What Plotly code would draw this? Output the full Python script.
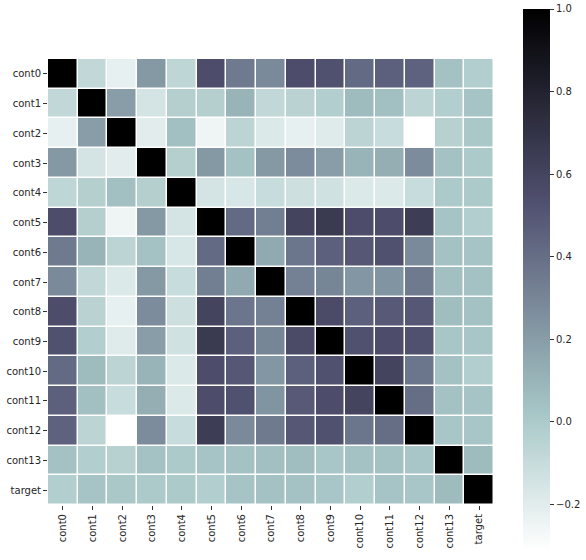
import numpy as np
import plotly.graph_objects as go

labels = ["cont0", "cont1", "cont2", "cont3", "cont4", "cont5", "cont6", "cont7",
          "cont8", "cont9", "cont10", "cont11", "cont12", "cont13", "target"]

# upper triangle rows of the correlation matrix (row i, columns i..14)
row_cont0 = [1.00, -0.08, -0.22, 0.22, -0.07, 0.55, 0.35, 0.28, 0.55, 0.53, 0.42, 0.46, 0.45, 0.04, -0.02]
row_cont1 = [1.00, 0.20, -0.15, -0.03, -0.03, 0.10, -0.08, -0.05, -0.02, 0.07, 0.05, -0.06, -0.02, 0.03]
row_cont2 = [1.00, -0.20, 0.05, -0.25, -0.06, -0.18, -0.22, -0.19, -0.06, -0.10, -0.31, -0.04, 0.01]
row_cont3 = [1.00, -0.03, 0.22, 0.04, 0.22, 0.27, 0.20, 0.10, 0.13, 0.27, 0.04, 0.00]
row_cont4 = [1.00, -0.15, -0.16, -0.10, -0.12, -0.13, -0.18, -0.18, -0.10, 0.00, 0.00]
row_cont5 = [1.00, 0.42, 0.33, 0.60, 0.66, 0.55, 0.55, 0.64, 0.03, -0.02]
row_cont6 = [1.00, 0.15, 0.37, 0.46, 0.50, 0.53, 0.28, 0.04, 0.03]
row_cont7 = [1.00, 0.32, 0.30, 0.23, 0.24, 0.35, 0.05, 0.04]
row_cont8 = [1.00, 0.56, 0.46, 0.49, 0.50, 0.06, 0.04]
row_cont9 = [1.00, 0.53, 0.55, 0.53, 0.02, 0.02]
row_cont10 = [1.00, 0.60, 0.37, 0.04, -0.02]
row_cont11 = [1.00, 0.40, 0.04, 0.03]
row_cont12 = [1.00, 0.02, 0.02]
row_cont13 = [1.00, 0.07]
row_target = [1.00]

upper_rows = [row_cont0, row_cont1, row_cont2, row_cont3, row_cont4, row_cont5, row_cont6,
              row_cont7, row_cont8, row_cont9, row_cont10, row_cont11, row_cont12,
              row_cont13, row_target]

n = len(labels)
corr = np.zeros((n, n))
for i, r in enumerate(upper_rows):
    for k, v in enumerate(r):
        corr[i, i + k] = v
        corr[i + k, i] = v

cbar_ticks = [-0.2, 0.0, 0.2, 0.4, 0.6, 0.8, 1.0]
cbar_ticktext = [f"{v:.1f}".replace("-", "\u2212") for v in cbar_ticks]


# matplotlib "bone" colormap, reversed
def bone(s):
    r = np.interp(s, [0, 0.746032, 1.0], [0, 0.652778, 1.0])
    g = np.interp(s, [0, 0.365079, 0.746032, 1.0], [0, 0.319444, 0.777778, 1.0])
    b = np.interp(s, [0, 0.365079, 1.0], [0, 0.444444, 1.0])
    return r, g, b


colorscale = []
for t in np.linspace(0, 1, 41):
    r, g, b = bone(1 - t)
    colorscale.append([float(t), f"rgb({int(round(r*255))},{int(round(g*255))},{int(round(b*255))})"])

zmin = float(corr.min())
zmax = 1.0

W, H = 586, 560
ML, MT, PW, PH = 48, 59, 446, 446
CB_LEFT, CB_TOP, CB_LEN, CB_THICK = 523, 9, 541, 27


def paper_x(px):
    return (px - ML) / PW


def paper_y(py):
    return (MT + PH - py) / PH


fig = go.Figure(go.Heatmap(
    z=corr,
    x=labels,
    y=labels,
    colorscale=colorscale,
    zmin=zmin,
    zmax=zmax,
    xgap=1.5,
    ygap=1.5,
    hoverongaps=False,
    colorbar=dict(
        thickness=CB_THICK,
        lenmode="pixels",
        len=CB_LEN,
        x=paper_x(CB_LEFT),
        xanchor="left",
        xpad=0,
        ypad=0,
        y=paper_y(CB_TOP + CB_LEN / 2),
        yanchor="middle",
        outlinewidth=0,
        ticks="outside",
        ticklen=4,
        tickwidth=1,
        tickcolor="#333333",
        tickvals=cbar_ticks,
        showticklabels=False,
    ),
))

# colorbar tick labels, placed from their values along the bar
for v, txt in zip(cbar_ticks, cbar_ticktext):
    py = CB_TOP + (zmax - v) / (zmax - zmin) * CB_LEN
    fig.add_annotation(
        x=paper_x(CB_LEFT + CB_THICK + 4), y=paper_y(py),
        xref="paper", yref="paper", xanchor="left", yanchor="middle",
        text=txt, showarrow=False,
        font=dict(family="DejaVu Sans", size=10, color="#262626"),
    )

fig.update_layout(
    width=W,
    height=H,
    margin=dict(l=ML, r=W - ML - PW, t=MT, b=H - MT - PH, autoexpand=False),
    paper_bgcolor="white",
    plot_bgcolor="white",
    font=dict(family="DejaVu Sans", size=10, color="#262626"),
    xaxis=dict(
        type="category",
        tickangle=-90,
        ticks="outside",
        ticklen=4,
        tickcolor="#333333",
        showgrid=False,
        zeroline=False,
        showline=False,
        automargin=False,
        tickfont=dict(family="DejaVu Sans", size=10, color="#262626"),
    ),
    yaxis=dict(
        type="category",
        autorange="reversed",
        ticks="outside",
        ticklen=4,
        tickcolor="#333333",
        showgrid=False,
        zeroline=False,
        showline=False,
        automargin=False,
        tickfont=dict(family="DejaVu Sans", size=10, color="#262626"),
    ),
)

# remove the browser's default 8px body margin so the figure fills the window exactly
fig.write_html(
    "out.html",
    config={"displayModeBar": False},
    post_script="document.body.style.margin='0';document.body.style.overflow='hidden';",
)
